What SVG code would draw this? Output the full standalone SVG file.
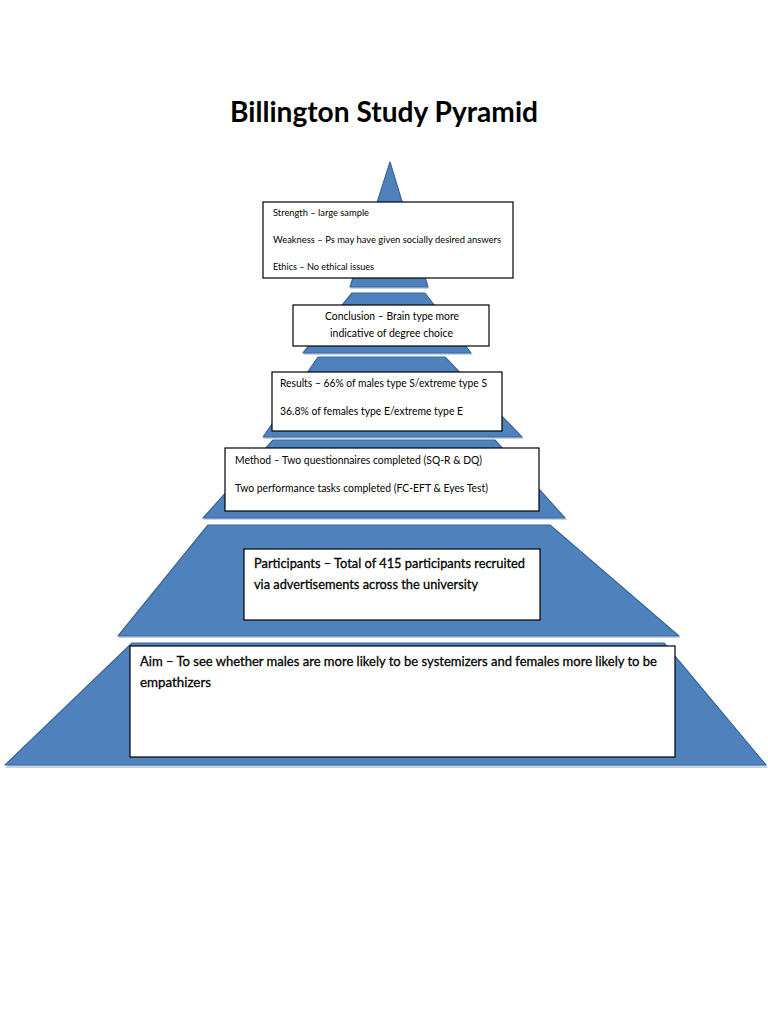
<svg xmlns="http://www.w3.org/2000/svg" width="768" height="1024" viewBox="0 0 768 1024">
<style>
.layer{fill:#4f81bd;stroke:#3c6799;stroke-width:1.2;stroke-linejoin:round}
.shadow{fill:#9fb6d6;opacity:0.6}
.box{fill:#ffffff;stroke:#000000;stroke-width:1.2}
.t{font-family:Lato,"Liberation Sans",sans-serif;fill:#000000}
.heavy{stroke:#000000;stroke-width:0.3}
.title{font-family:Lato,"Liberation Sans",sans-serif;font-weight:bold;font-size:29px;fill:#000000}
</style>
<rect width="768" height="1024" fill="#ffffff"/>
<text class="title" x="230" y="122" textLength="308" lengthAdjust="spacingAndGlyphs">Billington Study Pyramid</text>

<g id="layer-aim">
<polygon class="shadow" points="132,645 666,645 768,768 5,768"/>
<polygon class="layer" points="132,643 664,643 766,765 5,765"/>
</g>
<g id="layer-participants">
<polygon class="shadow" points="208,527 550,527 681,638 118,638"/>
<polygon class="layer" points="208,525 550,525 679,636 118,636"/>
</g>
<g id="layer-method">
<polygon class="shadow" points="273,442 495,442 567,520 203,520"/>
<polygon class="layer" points="273,440 495,440 565,518 203,518"/>
</g>
<g id="layer-results">
<polygon class="shadow" points="318,359 445,359 524,439 263,439"/>
<polygon class="layer" points="318,357 445,357 522,437 263,437"/>
</g>
<g id="layer-conclusion">
<polygon class="shadow" points="352,295 425,295 473,355 303,355"/>
<polygon class="layer" points="352,293 425,293 471,353 303,353"/>
</g>
<g id="layer-top">
<polygon class="shadow" points="390,164 429,289 350,289"/>
<polygon class="layer" points="390,162 428,287 350,287"/>
</g>

<g id="box-evaluation">
<rect class="box" x="263" y="202" width="250" height="76"/>
<text class="t" font-size="10" x="273" y="216" textLength="96" lengthAdjust="spacingAndGlyphs">Strength – large sample</text>
<text class="t" font-size="10" x="273" y="243" textLength="228" lengthAdjust="spacingAndGlyphs">Weakness – Ps may have given socially desired answers</text>
<text class="t" font-size="10" x="273" y="270" textLength="101" lengthAdjust="spacingAndGlyphs">Ethics – No ethical issues</text>
</g>
<g id="box-conclusion">
<rect class="box" x="293" y="305" width="196" height="41"/>
<text class="t" font-size="11" x="325" y="320" textLength="134" lengthAdjust="spacingAndGlyphs">Conclusion – Brain type more</text>
<text class="t" font-size="11" x="330" y="337" textLength="123" lengthAdjust="spacingAndGlyphs">indicative of degree choice</text>
</g>
<g id="box-results">
<rect class="box" x="272" y="372" width="230" height="59"/>
<text class="t" font-size="11" x="280" y="387" textLength="207" lengthAdjust="spacingAndGlyphs">Results – 66% of males type S/extreme type S</text>
<text class="t" font-size="11" x="280" y="415" textLength="183" lengthAdjust="spacingAndGlyphs">36.8% of females type E/extreme type E</text>
</g>
<g id="box-method">
<rect class="box" x="225" y="448" width="314" height="63"/>
<text class="t" font-size="11.5" x="235" y="464" textLength="247" lengthAdjust="spacingAndGlyphs">Method – Two questionnaires completed (SQ-R &amp; DQ)</text>
<text class="t" font-size="11.5" x="235" y="492" textLength="253" lengthAdjust="spacingAndGlyphs">Two performance tasks completed (FC-EFT &amp; Eyes Test)</text>
</g>
<g id="box-participants">
<rect class="box" x="244" y="549" width="296" height="71"/>
<text class="t heavy" font-size="14" x="254" y="568" textLength="271" lengthAdjust="spacingAndGlyphs">Participants – Total of 415 participants recruited</text>
<text class="t heavy" font-size="14" x="254" y="589" textLength="224" lengthAdjust="spacingAndGlyphs">via advertisements across the university</text>
</g>
<g id="box-aim">
<rect class="box" x="130" y="646" width="545" height="111"/>
<text class="t heavy" font-size="14" x="140" y="666" textLength="517" lengthAdjust="spacingAndGlyphs">Aim – To see whether males are more likely to be systemizers and females more likely to be</text>
<text class="t heavy" font-size="14" x="140" y="687" textLength="71" lengthAdjust="spacingAndGlyphs">empathizers</text>
</g>
</svg>
